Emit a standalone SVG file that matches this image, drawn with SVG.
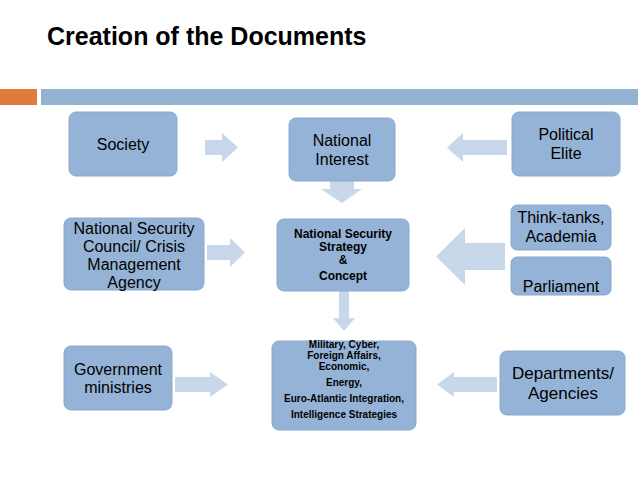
<svg xmlns="http://www.w3.org/2000/svg" width="638" height="478" viewBox="0 0 638 478">
<style>
.b{fill:#95b3d7;stroke:#8aa9cd;stroke-width:1}
.a{fill:#c8d8ea}
text{font-family:"Liberation Sans",Arial,sans-serif;fill:#000;text-anchor:middle}
.n{font-size:16px}
.s{font-size:12px;font-weight:bold}
.x{font-size:10px;font-weight:bold}
</style>
<rect width="638" height="478" fill="#fff"/>
<text x="47" y="45" style="text-anchor:start;font-size:25px;font-weight:bold">Creation of the Documents</text>
<rect x="0" y="89" width="37" height="16" fill="#e07b3c"/>
<rect x="41" y="89" width="597" height="16" fill="#94b3d3"/>
<g id="connectors">
<polygon class="a" points="205,140 222,140 222,133 238,147.5 222,162 222,155 205,155"/>
<polygon class="a" points="507,140 463,140 463,133 447,147.5 463,162 463,155 507,155"/>
<polygon class="a" points="330,181 354,181 354,189 362,189 342,203 321,189 330,189"/>
<polygon class="a" points="207,245 230,245 230,238 245,252.5 230,267 230,260 207,260"/>
<polygon class="a" points="505,243 465,243 465,228 436,256.5 465,285 465,270 505,270"/>
<polygon class="a" points="339,291 349,291 349,318 355,318 344,331 333,318 339,318"/>
<polygon class="a" points="175,377 210,377 210,372 228,384.5 210,397 210,392 175,392"/>
<polygon class="a" points="497,377 454,377 454,372 437,384.5 454,397 454,392 497,392"/>
</g>
<g id="society"><rect class="b" x="69" y="112" width="108" height="64" rx="7"/><text class="n" x="123" y="150">Society</text></g>
<g id="national-interest"><rect class="b" x="289" y="118" width="106" height="63" rx="7"/><text class="n" x="342" y="146">National</text><text class="n" x="342" y="165">Interest</text></g>
<g id="political-elite"><rect class="b" x="512" y="112" width="108" height="64" rx="7"/><text class="n" x="566" y="140">Political</text><text class="n" x="566" y="159">Elite</text></g>
<g id="nsc"><rect class="b" x="64" y="218" width="140" height="72" rx="7"/><text class="n" x="134" y="234">National Security</text><text class="n" x="134" y="252">Council/ Crisis</text><text class="n" x="134" y="270">Management</text><text class="n" x="134" y="288">Agency</text></g>
<g id="nss"><rect class="b" x="277" y="219" width="132" height="72" rx="7"/><text class="s" x="343" y="238">National Security</text><text class="s" x="343" y="251">Strategy</text><text class="s" x="343" y="264">&amp;</text><text class="s" x="343" y="280">Concept</text></g>
<g id="think-tanks"><rect class="b" x="511" y="205" width="100" height="45" rx="6"/><text class="n" x="561" y="223">Think-tanks,</text><text class="n" x="561" y="242">Academia</text></g>
<g id="parliament"><rect class="b" x="511" y="257" width="100" height="38" rx="6"/><text class="n" x="561" y="292">Parliament</text></g>
<g id="gov"><rect class="b" x="64" y="346" width="108" height="64" rx="7"/><text class="n" x="118" y="375">Government</text><text class="n" x="118" y="393">ministries</text></g>
<g id="strategies"><rect class="b" x="272" y="341" width="144" height="89" rx="7"/><text class="x" x="344" y="348">Military, Cyber,</text><text class="x" x="344" y="359">Foreign Affairs,</text><text class="x" x="344" y="370">Economic,</text><text class="x" x="344" y="386">Energy,</text><text class="x" x="344" y="402">Euro-Atlantic Integration,</text><text class="x" x="344" y="418">Intelligence Strategies</text></g>
<g id="departments"><rect class="b" x="500" y="351" width="125" height="64" rx="7"/><text class="n" x="563" y="379" style="font-size:17px">Departments/</text><text class="n" x="563" y="399" style="font-size:17px">Agencies</text></g>
</svg>
